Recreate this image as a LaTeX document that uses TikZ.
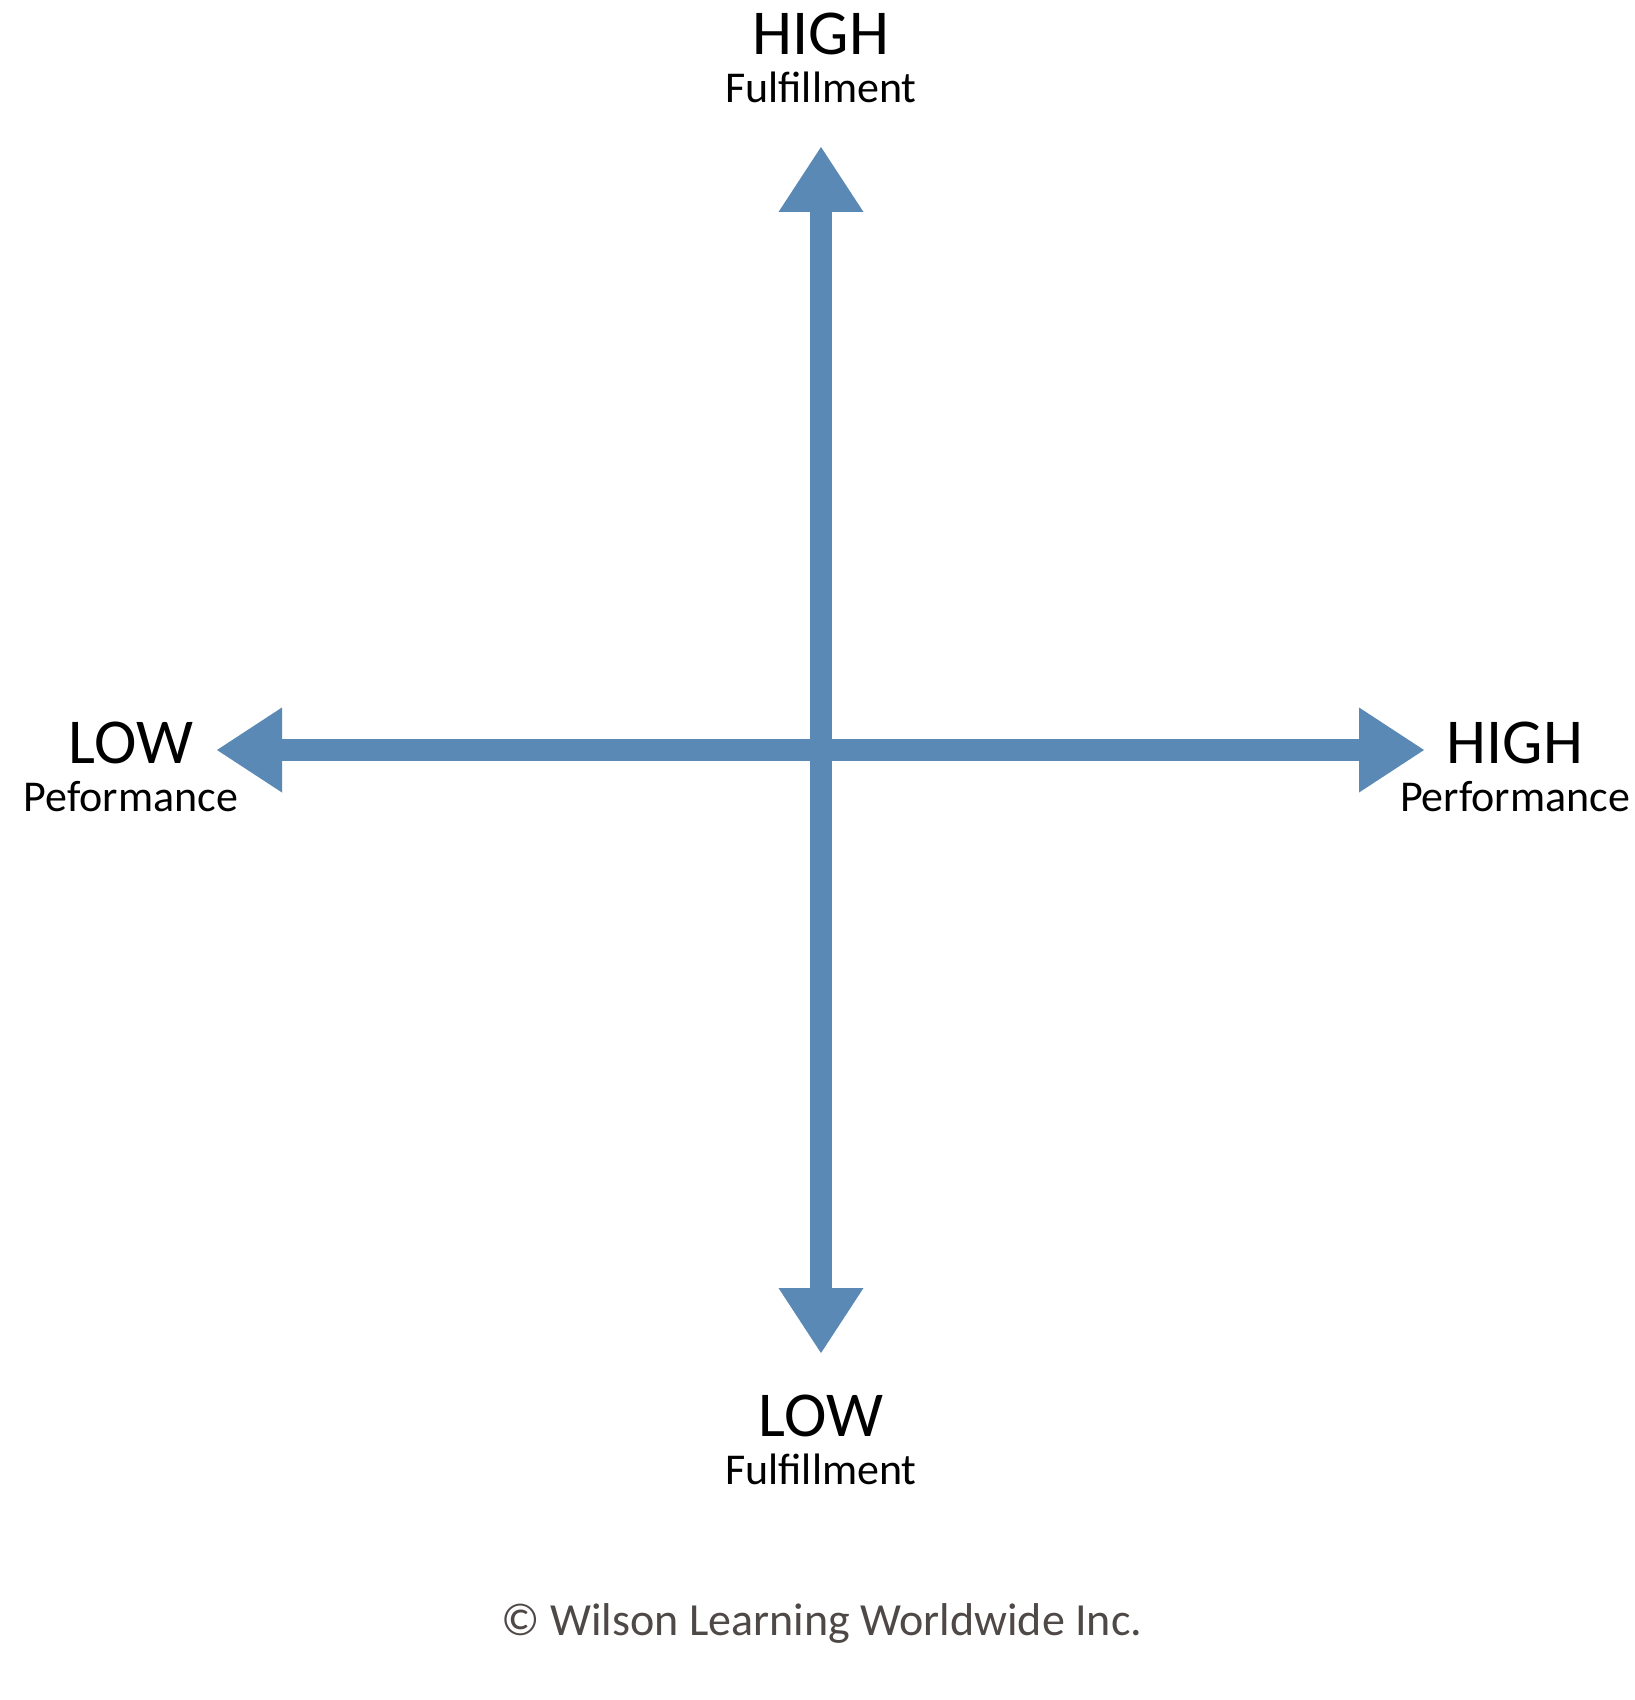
\documentclass[tikz,border=0pt]{standalone}
\usepackage{fontspec}
\setmainfont{Carlito}
\usetikzlibrary{arrows.meta,positioning}
\definecolor{axisblue}{RGB}{91,137,181}
\definecolor{notegray}{RGB}{78,72,70}
\tikzset{
    %Define standard arrow tip
    axtip/.tip={Triangle[width=42.5pt,length=32.5pt,line width=0pt]},
    %Define style for axis labels
    level/.style={
           inner sep=0pt,
           anchor=base,
           font=\fontsize{32}{36}\selectfont,
           text=black},
    measure/.style={
           inner sep=0pt,
           font=\fontsize{22}{24}\selectfont,
           text=black},
    % Define arrow style
    axis/.style={
           axtip-axtip,
           draw=axisblue,
           line width=11pt}
}
\begin{document}
\begin{tikzpicture}[x=0.5pt,y=-0.5pt]
\useasboundingbox[fill=white] (0,0) rectangle (1634,1700);
\coordinate (c) at (821,750);
\coordinate (ttip) at (821,147);
\coordinate (btip) at (821,1353);
\coordinate (ltip) at (217,750);
\coordinate (rtip) at (1424,750);
\draw[axis] (ltip) -- (rtip);
\draw[axis] (btip) -- (ttip);
\node[level](tophigh) at (821,55){HIGH};
\node[measure, below=24pt of tophigh.base, anchor=base](topsub){Fulfillment};
\node[level](rhigh) at (1515,763){HIGH};
\node[measure, below=24pt of rhigh.base, anchor=base](rsub){Performance};
\node[level](llow) at (131,763){LOW};
\node[measure, below=24pt of llow.base, anchor=base](lsub){Peformance};
\node[level](blow) at (821,1436){LOW};
\node[measure, below=24pt of blow.base, anchor=base](bsub){Fulfillment};
\node[inner sep=0pt, anchor=base, text=notegray, font=\fontsize{23}{26}\selectfont](copy) at (822,1635){© Wilson Learning Worldwide Inc.};
\end{tikzpicture}
\end{document}
